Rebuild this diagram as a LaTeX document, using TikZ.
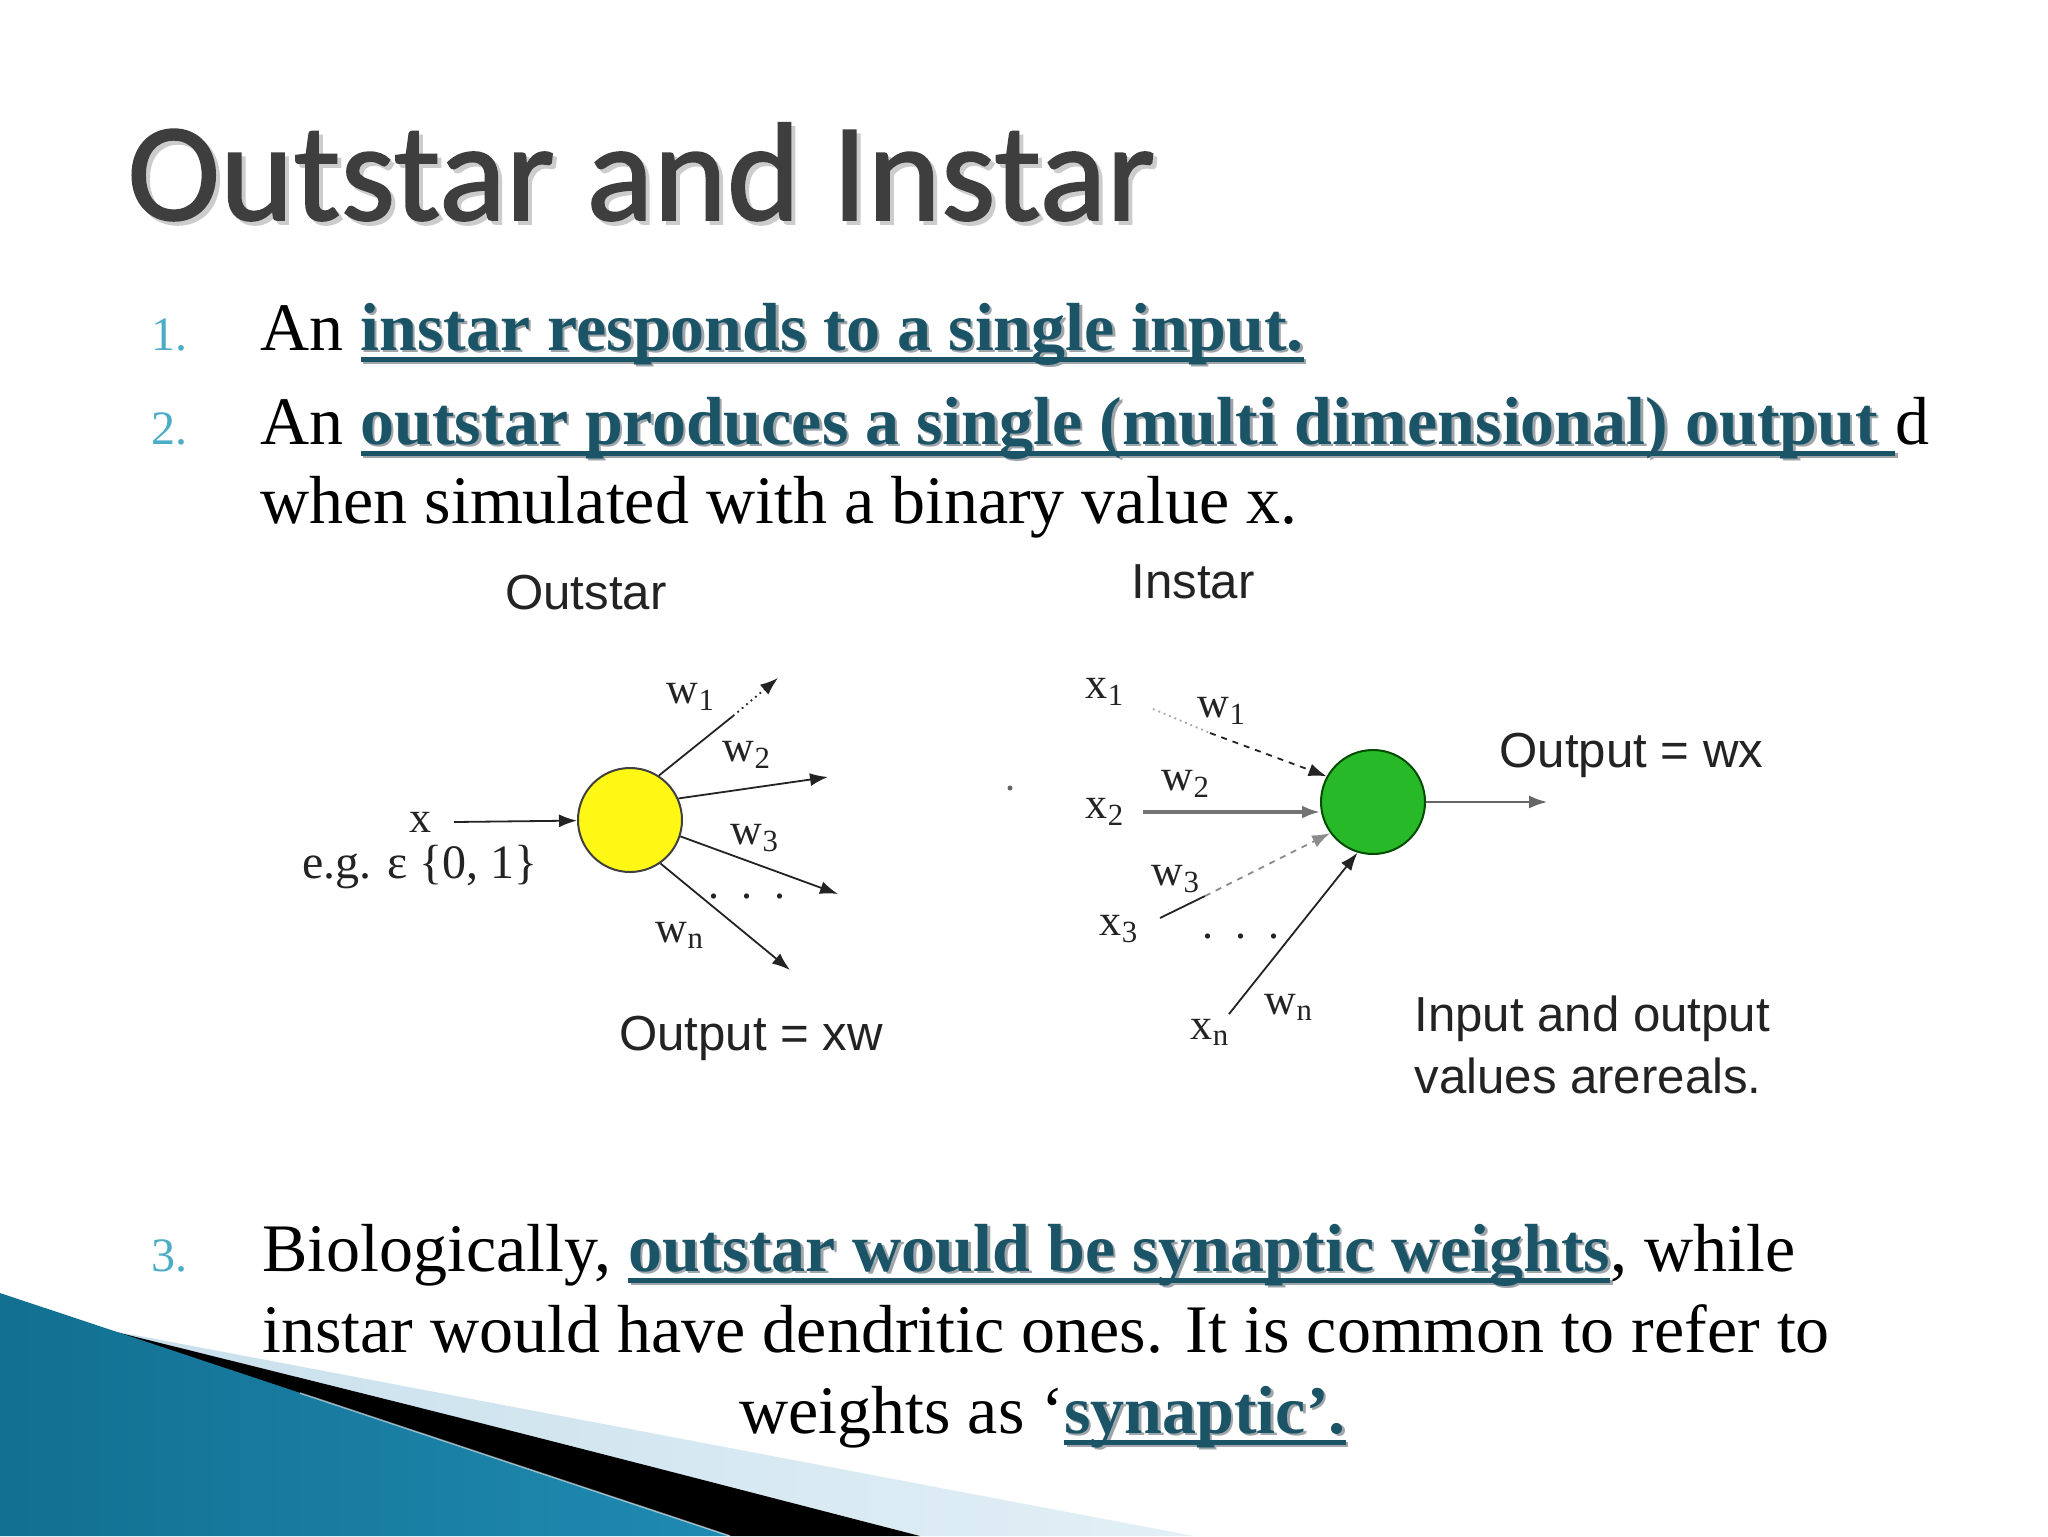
\documentclass[tikz,border=0pt]{standalone}
\usepackage{fontspec}
\setmainfont{Liberation Serif}
\setsansfont{Liberation Sans}
\newfontfamily\titlefont[FakeBold=1.2]{Carlito}
\usetikzlibrary{arrows.meta}
\definecolor{hlc}{RGB}{27,84,102}
\definecolor{numc}{RGB}{75,172,198}
\definecolor{shc}{RGB}{160,165,170}
\definecolor{titlec}{RGB}{62,62,62}
\definecolor{labc}{RGB}{35,35,35}
\definecolor{yel}{RGB}{255,248,20}
\definecolor{grn}{RGB}{40,185,40}
\definecolor{blueA}{RGB}{18,112,145}
\definecolor{blueB}{RGB}{80,182,216}
\definecolor{blueC}{RGB}{32,138,178}
\definecolor{bandA}{RGB}{200,224,236}
\definecolor{bandB}{RGB}{226,239,246}
\newcommand\hlt[1]{%
  \setbox0=\hbox{\bfseries #1}%
  \rlap{\kern1.2pt\raisebox{-1.2pt}{\textcolor{shc}{\rule[-6pt]{\wd0}{2.5pt}}}}%
  \rlap{\kern1.2pt\raisebox{-1.2pt}{\textcolor{shc}{\bfseries #1}}}%
  \rlap{\textcolor{hlc}{\rule[-6pt]{\wd0}{2.5pt}}}%
  \textcolor{hlc}{\bfseries #1}}
\tikzset{
  bodytext/.style={anchor=base west, inner sep=0pt, font=\fontsize{34}{40}\selectfont},
  numtext/.style={anchor=base west, inner sep=0pt, text=numc, font=\fontsize{24}{28}\selectfont},
  sanslab/.style={inner sep=0pt, text=labc, font=\sffamily\fontsize{24.6}{28}\selectfont},
  serlab/.style={inner sep=0pt, text=labc, font=\fontsize{22}{26}\selectfont},
  eglab/.style={inner sep=0pt, text=labc, font=\fontsize{24}{28}\selectfont},
  neuron/.style={circle, line width=1pt, minimum size=52pt, inner sep=0pt},
  conn/.style={draw=labc, line width=0.9pt, -{Latex[length=9pt,width=6.5pt]}},
  plain/.style={draw=labc, line width=0.9pt},
}
\begin{document}
\begin{tikzpicture}[x=0.5pt,y=-0.5pt]
\useasboundingbox (0,0) rectangle (2048,1536);
\fill[white] (0,0) rectangle (2048,1536);
% bottom-left decoration
\shade[left color=bandA, right color=bandB] (108,1330) .. controls (510,1430) .. (920,1536) -- (1194,1536) -- cycle;
\fill[black] (108,1330) .. controls (510,1430) .. (920,1536) -- (730,1536) -- cycle;
\shade[left color=blueA, middle color=blueB, right color=blueC] (0,1293) -- (730,1536) -- (0,1536) -- cycle;
\draw[white, opacity=0.55, line width=0.8pt] (300,1393) -- (730,1536);
% title
\node[anchor=base west, inner sep=0pt, text=gray!40, font=\titlefont\fontsize{70}{80}\selectfont] (titlesh) at (131,224) {Outstar and Instar};
\node[anchor=base west, inner sep=0pt, text=titlec, font=\titlefont\fontsize{70}{80}\selectfont] (title) at (127,220) {Outstar and Instar};
% items
\node[numtext] (n1) at (151,350) {1.};
\node[bodytext] (l1) at (260,350) {An \hlt{instar responds to a single input.}};
\node[numtext] (n2) at (151,444) {2.};
\node[bodytext] (l2) at (260,444) {An \hlt{outstar produces a single (multi dimensional) output\ }d};
\node[bodytext] (l2b) at (260,523) {when simulated with a binary value x.};
\node[numtext] (n3) at (151,1271) {3.};
\node[bodytext] (l3) at (262,1271) {Biologically, \hlt{outstar would be synaptic weights}, while};
\node[bodytext] (l3b) at (262,1352) {instar would have dendritic ones. It is common to refer to};
\node[bodytext] (l3c) at (739,1433) {weights as ‘\hlt{synaptic’.}};
% ---- Outstar ----
\node[sanslab] (toutstar) at (586,593) {Outstar};
\node[neuron, draw=black!75, fill=yel] (ys) at (630,820) {};
\coordinate (xin) at (454,822);
\draw[conn] (xin) -- (ys);
\node[serlab] (xlab) at (420,822) {x};
\node[eglab] (eg) at (420,867) {e.g. ε \{0, 1\}};
\coordinate (o1m) at (733,716);
\coordinate (o1t) at (778,678);
\coordinate (o2t) at (828,777);
\coordinate (o3t) at (838,894);
\coordinate (ont) at (790,970);
\draw[plain] (ys.57) -- (o1m);
\draw[conn, dotted] (o1m) -- (o1t);
\draw[conn] (ys.24) -- (o2t);
\draw[conn] (ys.-18) -- (o3t);
\draw[conn] (ys.-55) -- (ont);
\node[serlab] (ow1) at (691,697) {w\textsubscript{1}};
\node[serlab] (ow2) at (747,755) {w\textsubscript{2}};
\node[serlab] (ow3) at (755,838) {w\textsubscript{3}};
\node[serlab] (own) at (680,935) {w\textsubscript{n}};
\node[serlab, anchor=base] (odots) at (747,898) {.\ \ .\ \ .};
\node[sanslab] (outxw) at (751,1038) {Output = xw};
% ---- Instar ----
\node[sanslab] (tinstar) at (1193,582) {Instar};
\node[neuron, draw=black!70!green, fill=grn] (gs) at (1373,802) {};
\node[circle, fill=black!60, inner sep=0pt, minimum size=2.5pt] (tdot) at (1010,788) {};
\node[serlab] (ix1) at (1105,692) {x\textsubscript{1}};
\node[serlab] (ix2) at (1105,812) {x\textsubscript{2}};
\node[serlab] (ix3) at (1119,929) {x\textsubscript{3}};
\node[serlab] (ixn) at (1210,1032) {x\textsubscript{n}};
\node[serlab] (iw1) at (1222,711) {w\textsubscript{1}};
\node[serlab] (iw2) at (1186,784) {w\textsubscript{2}};
\node[serlab] (iw3) at (1176,879) {w\textsubscript{3}};
\node[serlab] (iwn) at (1289,1007) {w\textsubscript{n}};
\coordinate (i1s) at (1153,709);
\coordinate (i1m) at (1210,733);
\coordinate (i2s) at (1143,812);
\coordinate (i3s) at (1160,918);
\coordinate (i3m) at (1205,896);
\coordinate (ins) at (1229,1014);
\coordinate (gout) at (1547,802);
\draw[draw=black!35, line width=0.9pt, dotted] (i1s) -- (i1m);
\draw[conn, dashed] (i1m) -- (gs.151);
\draw[conn, draw=black!55, line width=1.6pt] (i2s) -- (i2s -| gs.west);
\draw[plain] (i3s) -- (i3m);
\draw[conn, draw=black!45, dashed] (i3m) -- (gs.216);
\draw[conn] (ins) -- (gs.253);
\draw[conn, draw=black!60] (gs.east) -- (gout);
\node[serlab, anchor=base] (idots) at (1241,938) {.\ \ .\ \ .};
\node[sanslab, anchor=west] (outwx) at (1499,755) {Output = wx};
\node[sanslab, anchor=west] (inout) at (1414,1019) {Input and output};
\node[sanslab, anchor=west] (vals) at (1414,1076) {values arereals.};
\end{tikzpicture}
\end{document}
